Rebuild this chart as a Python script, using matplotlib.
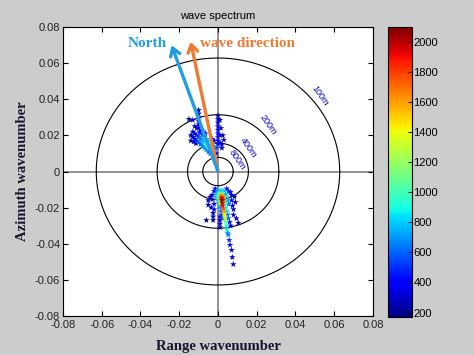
import numpy as np
import matplotlib
matplotlib.use("Agg")
import matplotlib.pyplot as plt

# spectrum samples, units of 1e-3 rad/m : (kx, ky, energy)
upper = [
    (-15, 29, 250), (-13, 28.5, 300), (-10, 34, 250), (-10, 32, 300), (-10, 30, 300),
    (-10, 28, 350), (-10, 26, 350), (-10, 24, 400), (-9.5, 22, 450), (-13, 22, 300),
    (-12, 21, 350), (-13, 19, 300), (-12, 18, 400), (-11, 20, 450), (-11, 17, 500),
    (-10, 19, 550), (-10, 16, 600), (-9, 21, 500), (-9, 18, 650), (-9, 15, 600),
    (-8, 20, 600), (-8, 17, 700), (-8, 14, 650), (-7, 19, 700), (-7, 16, 800),
    (-7, 13, 700), (-6, 18, 750), (-6, 15, 900), (-6, 12, 700), (-5, 17, 800),
    (-5, 14, 950), (-5, 11, 600), (-4, 16, 900), (-4, 13, 1000), (-4, 10, 500),
    (-3, 15, 850), (-3, 12, 900), (-2, 14, 700), (-2, 11, 600), (-1, 13, 500),
    (-1, 10, 400), (0, 31, 250), (0, 29, 300), (0, 27, 300), (0, 25, 350),
    (0, 23, 400), (0, 21, 400), (0, 19, 450), (0, 17, 400), (0, 15, 350),
    (1, 28.5, 250), (1, 20, 300), (1, 16, 300), (2.5, 20, 250), (3, 17.5, 250),
    (2, 13, 300), (-11, 24, 250), (-12, 25, 250), (-14, 17, 250), (-14, 20, 250),
    (-11.5, 15.5, 300), (-12.5, 16.5, 250), (-8.5, 23, 300), (-7.5, 22, 350),
    (-6.5, 21, 400), (-3, 18, 300), (-2, 17, 350), (1.5, 24, 250), (2, 15, 300),
]
lower = [
    (1.5, -13, 1600), (1.8, -14.5, 1950), (2, -16, 2080), (2.2, -17.5, 2000), (2.4, -19, 1900),
    (2.7, -20.5, 1750), (3, -22, 1600), (3.2, -23.5, 1450), (3.5, -25, 1350), (3.7, -26.5, 1200),
    (4, -28, 1050), (4.3, -30, 950), (4.6, -32, 850), (5, -34, 700),
    (2.6, -14, 1700), (2.8, -15.5, 1800), (1.2, -15.5, 1500), (1.4, -17.5, 1400),
    (0, -11, 700), (1, -10.5, 800), (2, -10.5, 800), (3, -11, 750), (-1, -12, 650),
    (0, -12.5, 900), (1, -12, 1100), (2.5, -12, 1050), (4, -12.5, 700), (-1, -14, 700),
    (0, -14, 1000), (3, -14, 1200), (4.5, -14, 800), (0, -16, 800), (1, -16, 1100),
    (3.5, -16, 1100), (5, -16, 700), (0.5, -18, 800), (3.8, -18, 1000), (5.5, -18, 600),
    (1, -20, 700), (4.2, -20, 900), (1.5, -22, 600), (4.6, -22, 800), (2, -24, 500),
    (5, -24, 650), (2.5, -26, 500), (5.3, -26, 550),
    (-2, -11, 400), (-3, -13, 300), (5.5, -11, 450), (7, -13, 350), (8.5, -14, 250),
    (-3, -15.5, 300), (-5, -16, 250), (7, -16, 400), (9, -17, 300), (-5, -18.5, 250),
    (-2, -18, 400), (7.5, -19, 350), (-2, -21, 350), (8, -21, 300), (-2.5, -23, 300),
    (-2.5, -25, 250), (-6, -27, 200), (-2.5, -27, 250), (1, -25, 300), (1, -27, 300),
    (1, -29, 300), (1, -31, 250), (8, -24, 300), (9.5, -26, 250), (10.5, -28.5, 200),
    (6, -28, 400), (6.5, -30, 350), (5.3, -35, 600), (5.8, -38, 500), (6.2, -40.7, 400),
    (7, -43.5, 350), (7.4, -47.5, 300), (7.9, -51.4, 250),
    (-1.5, -9.5, 450), (4.5, -9.5, 450), (6.5, -11.5, 350), (-4, -14, 250), (-3.5, -20, 300),
]
wavelengths = [100, 200, 400, 800]
label_pos = [(0.0526, 0.0418), (0.0258, 0.0257), (0.0155, 0.0130), (0.0098, 0.0064)]
north_tip = (-0.024, 0.070)
wave_tip = (-0.0141, 0.0719)
ticks = [-0.08, -0.06, -0.04, -0.02, 0, 0.02, 0.04, 0.06, 0.08]
tick_labels = ["-0.08", "-0.06", "-0.04", "-0.02", "0", "0.02", "0.04", "0.06", "0.08"]
cbar_ticks = [200, 400, 600, 800, 1000, 1200, 1400, 1600, 1800, 2000]

plt.rcParams['font.family'] = ['Liberation Sans', 'DejaVu Sans']
fig = plt.figure(figsize=(4.74, 3.55), dpi=100, facecolor='#cccccc')
ax = fig.add_axes([0.1329, 0.1099, 0.654, 0.814])
cax = fig.add_axes([0.8186, 0.107, 0.0506, 0.817])

ax.axhline(0, color='#808080', lw=1.2, zorder=1)
ax.axvline(0, color='#808080', lw=1.2, zorder=1)
th = np.linspace(0, 2 * np.pi, 400)
for lam, (lx, ly) in zip(wavelengths, label_pos):
    r = 2 * np.pi / lam
    ax.plot(r * np.cos(th), r * np.sin(th), color='black', lw=0.8, zorder=2)
    ax.text(lx, ly, f"{lam}m", color='#0000cc', fontsize=6.5, rotation=-55,
            ha='center', va='center', zorder=3)

pts = np.array(upper + lower, dtype=float)
pts = pts[np.argsort(pts[:, 2])]
sc = ax.scatter(pts[:, 0] * 1e-3, pts[:, 1] * 1e-3, c=pts[:, 2], cmap='jet',
                vmin=170, vmax=2100, marker='*', s=24, linewidths=0, zorder=4)

for tip, col in [(wave_tip, '#f07a30'), (north_tip, '#229ee0')]:
    ax.annotate('', xy=tip, xytext=(0, 0), zorder=5,
                arrowprops=dict(arrowstyle='->,head_length=0.55,head_width=0.35',
                                lw=2.4, color=col, shrinkA=0, shrinkB=0))
ax.text(-0.0366, 0.0706, "North", color='#229ee0', fontsize=11, fontweight='bold',
        family=['Liberation Serif'], ha='center', va='center')
ax.text(-0.0093, 0.0711, "wave direction", color='#f07a30', fontsize=11, fontweight='bold',
        family=['Liberation Serif'], ha='left', va='center')

ax.set_xlim(-0.08, 0.08)
ax.set_ylim(-0.08, 0.08)
ax.set_xticks(ticks)
ax.set_xticklabels(tick_labels)
ax.set_yticks(ticks)
ax.set_yticklabels(tick_labels)
ax.tick_params(direction='in', length=3.5, labelsize=8, top=True, right=True,
               labelcolor='#222222', pad=2)
ax.tick_params(axis='x', pad=3)
for s in ax.spines.values():
    s.set_linewidth(0.8)
ax.set_title("wave spectrum", fontsize=8, pad=6)
ax.set_xlabel("Range wavenumber", fontsize=10.5, fontweight='bold',
              family=['Liberation Serif'], color='#151530', labelpad=7)
ax.set_ylabel("Azimuth wavenumber", fontsize=10.5, fontweight='bold',
              family=['Liberation Serif'], color='#151530', labelpad=4)

cb = fig.colorbar(sc, cax=cax, ticks=cbar_ticks)
cb.ax.tick_params(direction='in', length=3, labelsize=8, pad=1)
cb.outline.set_linewidth(0.8)

fig.savefig("out.png", dpi=100, facecolor=fig.get_facecolor())
